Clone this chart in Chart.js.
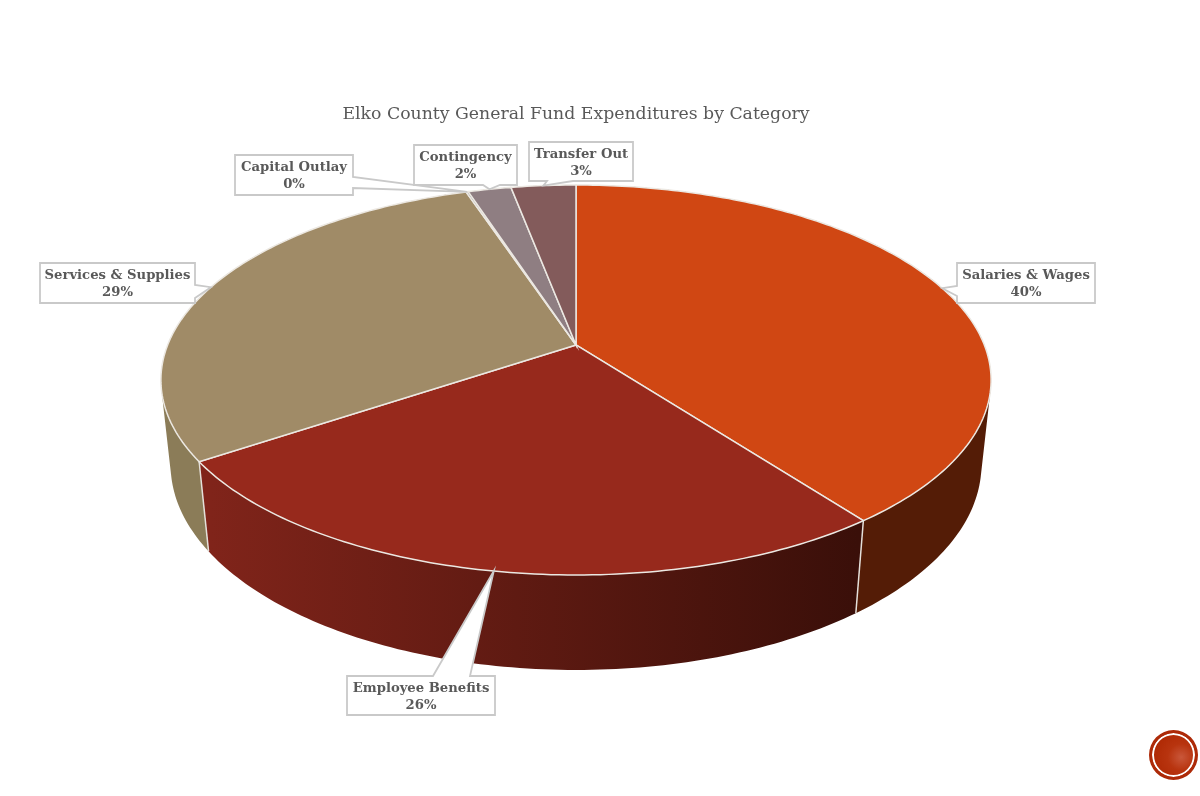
<!DOCTYPE html>
<html>
<head>
<meta charset="utf-8">
<title>Elko County General Fund Expenditures by Category</title>
<script src="https://cdn.jsdelivr.net/npm/chart.js@4"></script>
<style>
    html, body { margin: 0; padding: 0; background: #fff; }
    #wrap { position: relative; width: 1200px; height: 796px; overflow: hidden; }
    #pie { position: absolute; left: 0; top: 0; }
    #badge {
        position: absolute; left: 1149px; top: 730px; width: 49px; height: 50px; border-radius: 50%;
        box-sizing: border-box; border: 3px solid #ad2a08; box-shadow: inset 0 0 0 2px #fff;
        background: radial-gradient(circle at 68% 55%, #c9573a 0, #b8340f 35%, #b02a05 70%);
    }
</style>
</head>
<body>
<div id="wrap">
    <canvas id="pie" width="1152" height="796"></canvas>
    <div id="badge"></div>
</div>
<script>
const chartTitle = "Elko County General Fund Expenditures by Category";
const categories = ["Salaries & Wages", "Employee Benefits", "Services & Supplies", "Capital Outlay", "Contingency", "Transfer Out"];
const shares = [39.7, 25.9, 29.3, 0.1, 2.0, 3.0];
const topColors = ["#d04713", "#97291c", "#a08b67", "#8f8f8f", "#8f7e82", "#835b5b"];
const wallColors = [["#541c06", "#541c06"], ["#80241a", "#3a0f09"], ["#8b7c58", "#8b7c58"], ["#6f6f6f", "#6f6f6f"], ["#6f6064", "#6f6064"], ["#5f4040", "#5f4040"]];

// label boxes : x, y, w, h, side of the callout, start and end of its base along that side
const labelBoxes = [
    [957, 263, 138, 40, "left", 23, 33],
    [347, 676, 148, 39, "top", 86, 123],
    [40, 263, 155, 40, "right", 22, 35],
    [235, 155, 118, 40, "right", 22, 33],
    [414, 145, 103, 40, "bottom", 69, 86],
    [529, 142, 104, 39, "bottom", 18, 44]
];

// perspective of the disc, fitted on the picture (in units of the pie radius)
const persp = 0.1795, depthShift = 0.023, scaleX = 2.0415, scaleY = 0.9435, wallDrop = 0.427;

function project(arc, angle, low) {
    const u = Math.cos(angle), v = Math.sin(angle), z = low ? 1 : 0;
    const w = 1 - persp * v + depthShift * z;
    return {
        x: arc.x + arc.outerRadius * scaleX * u / w,
        y: arc.y + arc.outerRadius * (scaleY * v + wallDrop * z) / w
    };
}

function arcPoints(arc, low) {
    const pts = [];
    const steps = Math.max(2, Math.ceil((arc.endAngle - arc.startAngle) * 60));
    for (let i = 0; i <= steps; i++) {
        pts.push(project(arc, arc.startAngle + (arc.endAngle - arc.startAngle) * i / steps, low));
    }
    return pts;
}

// the wall is one path made of small quads, all wound the same way, so the side silhouette is closed
function drawWall(ctx, arc, colors) {
    const top = arcPoints(arc, false), low = arcPoints(arc, true);
    const grad = ctx.createLinearGradient(211, 0, 857, 0);
    grad.addColorStop(0, colors[0]);
    grad.addColorStop(1, colors[1]);
    ctx.beginPath();
    for (let i = 0; i < top.length - 1; i++) {
        let quad = [top[i], top[i + 1], low[i + 1], low[i]];
        let area = 0;
        quad.forEach((p, k) => {
            const q = quad[(k + 1) % 4];
            area += p.x * q.y - q.x * p.y;
        });
        if (area < 0) quad = quad.reverse();
        quad.forEach((p, k) => k ? ctx.lineTo(p.x, p.y) : ctx.moveTo(p.x, p.y));
        ctx.closePath();
    }
    ctx.fillStyle = grad;
    ctx.fill();
}

function drawSeam(ctx, arc) {
    const a = project(arc, arc.startAngle, false), b = project(arc, arc.startAngle, true);
    ctx.beginPath();
    ctx.moveTo(a.x, a.y);
    ctx.lineTo(b.x, b.y);
    ctx.strokeStyle = "#e4e0da";
    ctx.lineWidth = 1.5;
    ctx.stroke();
}

function drawTop(ctx, arc, color) {
    const apex = project({ x: arc.x, y: arc.y, outerRadius: 0 }, 0, false);
    ctx.beginPath();
    ctx.moveTo(apex.x, apex.y);
    arcPoints(arc, false).forEach(p => ctx.lineTo(p.x, p.y));
    ctx.closePath();
    ctx.fillStyle = color;
    ctx.fill();
    ctx.strokeStyle = "#ece8e2";
    ctx.lineWidth = 1.5;
    ctx.stroke();
}

function drawLabel(ctx, arc, box, name, pct) {
    const [x, y, w, h, side, s1, s2] = box;
    const mid = (arc.startAngle + arc.endAngle) / 2;
    const tip = project(arc, mid, false);
    ctx.beginPath();
    ctx.moveTo(x, y);
    if (side === "top") { ctx.lineTo(x + s1, y); ctx.lineTo(tip.x, tip.y); ctx.lineTo(x + s2, y); }
    ctx.lineTo(x + w, y);
    if (side === "right") { ctx.lineTo(x + w, y + s1); ctx.lineTo(tip.x, tip.y); ctx.lineTo(x + w, y + s2); }
    ctx.lineTo(x + w, y + h);
    if (side === "bottom") { ctx.lineTo(x + s2, y + h); ctx.lineTo(tip.x, tip.y); ctx.lineTo(x + s1, y + h); }
    ctx.lineTo(x, y + h);
    if (side === "left") { ctx.lineTo(x, y + s2); ctx.lineTo(tip.x, tip.y); ctx.lineTo(x, y + s1); }
    ctx.closePath();
    ctx.fillStyle = "#fff";
    ctx.fill();
    ctx.strokeStyle = "#c9c9c9";
    ctx.lineWidth = 1.8;
    ctx.stroke();

    ctx.fillStyle = "#595959";
    ctx.font = "bold 13.2px 'DejaVu Serif'";
    ctx.textAlign = "center";
    ctx.textBaseline = "middle";
    ctx.fillText(name, x + w / 2, y + 12.5);
    ctx.fillText(pct + "%", x + w / 2, y + 30);
}

const pie3d = {
    id: "pie3d",
    beforeDatasetsDraw(chart) {
        const ctx = chart.ctx, arcs = chart.getDatasetMeta(0).data;
        const total = shares.reduce((a, b) => a + b, 0);
        ctx.save();
        arcs.forEach((arc, i) => drawWall(ctx, arc, wallColors[i]));
        arcs.forEach(arc => drawSeam(ctx, arc));
        arcs.forEach((arc, i) => drawTop(ctx, arc, topColors[i]));
        arcs.forEach((arc, i) => drawLabel(ctx, arc, labelBoxes[i], categories[i], Math.round(shares[i] / total * 100)));
        ctx.restore();
        return false; // the arcs are drawn above, in perspective
    }
};

new Chart(document.getElementById("pie"), {
    type: "pie",
    data: {
        labels: categories,
        datasets: [{ data: shares, backgroundColor: topColors, borderWidth: 0 }]
    },
    options: {
        responsive: false,
        animation: false,
        layout: { padding: { bottom: 251 } },
        plugins: {
            legend: { display: false },
            tooltip: { enabled: false },
            title: {
                display: true,
                text: chartTitle,
                color: "#595959",
                font: { family: "'DejaVu Serif'", size: 17.3, weight: "normal" },
                padding: { top: 104, bottom: 20.2 }
            }
        }
    },
    plugins: [pie3d]
});
</script>
</body>
</html>
